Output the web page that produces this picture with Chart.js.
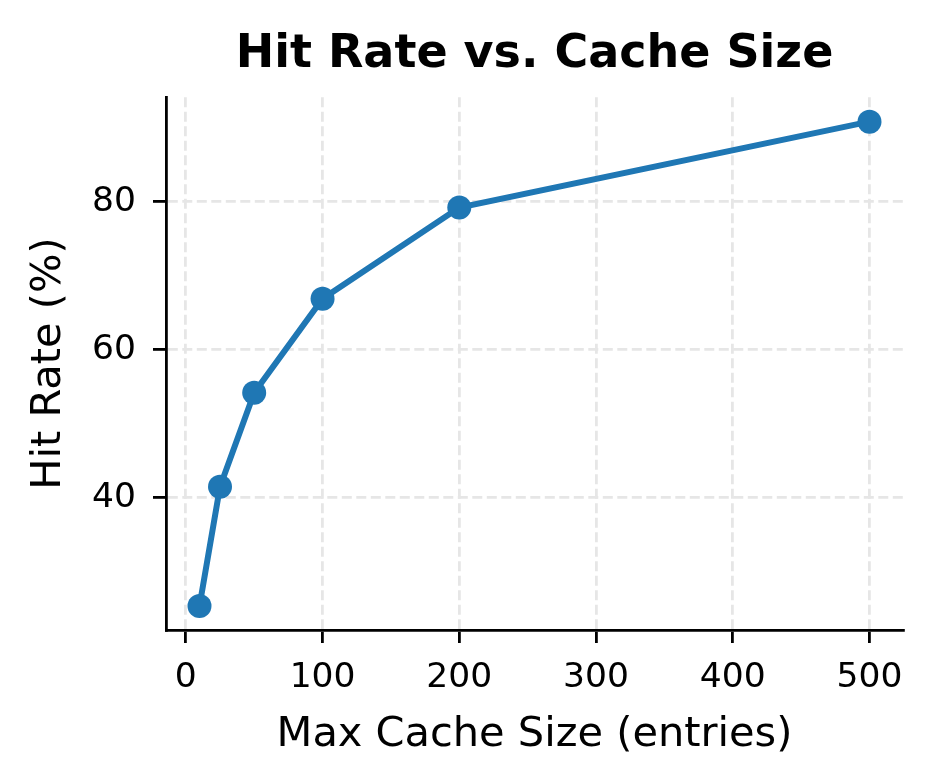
<!DOCTYPE html>
<html>
<head>
<meta charset="utf-8">
<script src="https://cdn.jsdelivr.net/npm/chart.js@4/dist/chart.umd.min.js"></script>
<style>
  html, body { margin: 0; padding: 0; background: #ffffff; }
  canvas { display: block; }
</style>
</head>
<body>
<canvas id="c" width="934" height="784"></canvas>
<script>
// ---- data ----
const cacheSizes = [10, 25, 50, 100, 200, 500];
const hitRates = [25.4, 41.5, 54.2, 66.9, 79.2, 90.8];
const chartTitle = "Hit Rate vs. Cache Size";
const xLabel = "Max Cache Size (entries)";
const yLabel = "Hit Rate (%)";

const FONT = "'DejaVu Sans', 'Liberation Sans', sans-serif";
const BLUE = "#1f77b4";
const GRID = "#e6e6e6";

const points = cacheSizes.map((x, i) => ({ x: x, y: hitRates[i] }));

const gridOpts = {
  display: true,
  color: GRID,
  lineWidth: 2.8,
  drawTicks: true,
  tickLength: 13,
  tickColor: "#000000",
  tickWidth: 2.8,
  tickBorderDash: []
};
const borderOpts = { display: true, color: "#000000", width: 2.8, dash: [10, 4.5] };

new Chart(document.getElementById("c"), {
  type: "line",
  data: {
    datasets: [{
      data: points,
      borderColor: BLUE,
      backgroundColor: BLUE,
      borderWidth: 6,
      pointRadius: 12,
      pointHoverRadius: 12,
      pointBorderWidth: 0,
      pointBackgroundColor: BLUE,
      tension: 0,
      fill: false
    }]
  },
  options: {
    responsive: false,
    animation: false,
    devicePixelRatio: 1,
    layout: { padding: { left: 0, right: 31, top: 0, bottom: 0 } },
    plugins: {
      legend: { display: false },
      tooltip: { enabled: false },
      title: {
        display: true,
        fullSize: false,
        align: "center",
        text: chartTitle,
        color: "#000000",
        font: { family: FONT, size: 46, weight: "bold", lineHeight: 1.2 },
        padding: { top: 27, bottom: 15 }
      }
    },
    scales: {
      x: {
        type: "linear",
        position: "bottom",
        min: -14.5,
        max: 524.5,
        afterFit: (s) => { s.height = 154; },
        ticks: {
          stepSize: 100,
          includeBounds: false,
          autoSkip: false,
          maxRotation: 0,
          padding: 14,
          color: "#000000",
          font: { family: FONT, size: 34.5, lineHeight: 1.2 }
        },
        grid: gridOpts,
        border: borderOpts,
        title: {
          display: true,
          text: xLabel,
          color: "#000000",
          font: { family: FONT, size: 41.5, lineHeight: 1.2 },
          padding: { top: 0, bottom: 24 }
        }
      },
      y: {
        type: "linear",
        position: "left",
        min: 22.16,
        max: 94.1,
        afterFit: (s) => { s.width = 166; },
        ticks: {
          stepSize: 20,
          includeBounds: false,
          autoSkip: false,
          padding: 17,
          color: "#000000",
          font: { family: FONT, size: 34.5, lineHeight: 1.2 }
        },
        grid: gridOpts,
        border: borderOpts,
        title: {
          display: true,
          text: yLabel,
          color: "#000000",
          font: { family: FONT, size: 41.5, lineHeight: 1.2 },
          padding: { top: 24, bottom: 0 }
        }
      }
    }
  }
});
</script>
</body>
</html>
